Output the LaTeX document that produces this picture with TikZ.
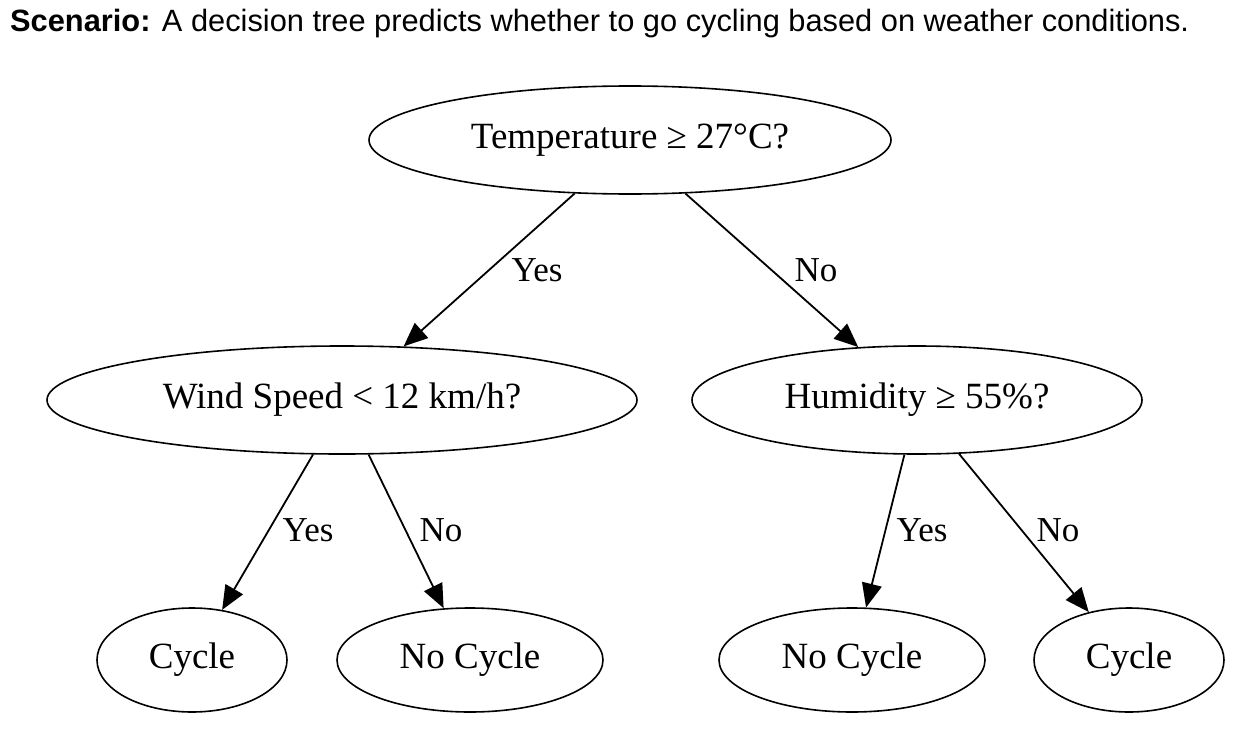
\documentclass[tikz,border=0pt]{standalone}
\usepackage{fontspec}
\setmainfont{Liberation Serif}
\newfontfamily\titlefont{Liberation Sans}
\usetikzlibrary{shapes.geometric,arrows.meta}
\begin{document}
\begin{tikzpicture}[x=1pt,y=-1pt,
  dn/.style={ellipse,draw,line width=1.6pt,inner sep=0pt,font=\fontsize{37}{40}\selectfont},
  ed/.style={line width=1.8pt,-{Triangle[length=24pt,width=20pt]}},
  lb/.style={font=\fontsize{35}{38}\selectfont}]
\useasboundingbox (0,0) rectangle (1240,736);
\node[anchor=west,inner sep=0pt,font=\titlefont\fontsize{30.8}{33}\selectfont] (title) at (10,24) {\textbf{Scenario:} A decision tree predicts whether to go cycling based on weather conditions.};
\node[dn,minimum width=522pt,minimum height=108pt] (t) at (630,140) {Temperature ≥ 27°C?};
\node[dn,minimum width=590pt,minimum height=108pt] (w) at (342,400) {Wind Speed < 12 km/h?};
\node[dn,minimum width=450pt,minimum height=108pt] (h) at (917,400) {Humidity ≥ 55\%?};
\node[dn,minimum width=190pt,minimum height=104pt] (c1) at (192,660) {Cycle};
\node[dn,minimum width=266pt,minimum height=104pt] (n1) at (470,660) {No Cycle};
\node[dn,minimum width=266pt,minimum height=104pt] (n2) at (852,660) {No Cycle};
\node[dn,minimum width=190pt,minimum height=104pt] (c2) at (1129,660) {Cycle};
\draw[ed] (t.-136) -- (w.41);
\draw[ed] (t.-44) -- (h.138);
\draw[ed] (w.-118) -- (c1.59);
\draw[ed] (w.-64) -- (n1.117);
\draw[ed] (h.-103) -- (n2.75);
\draw[ed] (h.-52) -- (c2.130);
\node[lb] (l1) at (537,270) {Yes};
\node[lb] (l2) at (816,270) {No};
\node[lb] (l3) at (308,530) {Yes};
\node[lb] (l4) at (441,530) {No};
\node[lb] (l5) at (922,530) {Yes};
\node[lb] (l6) at (1058,530) {No};
\end{tikzpicture}
\end{document}
